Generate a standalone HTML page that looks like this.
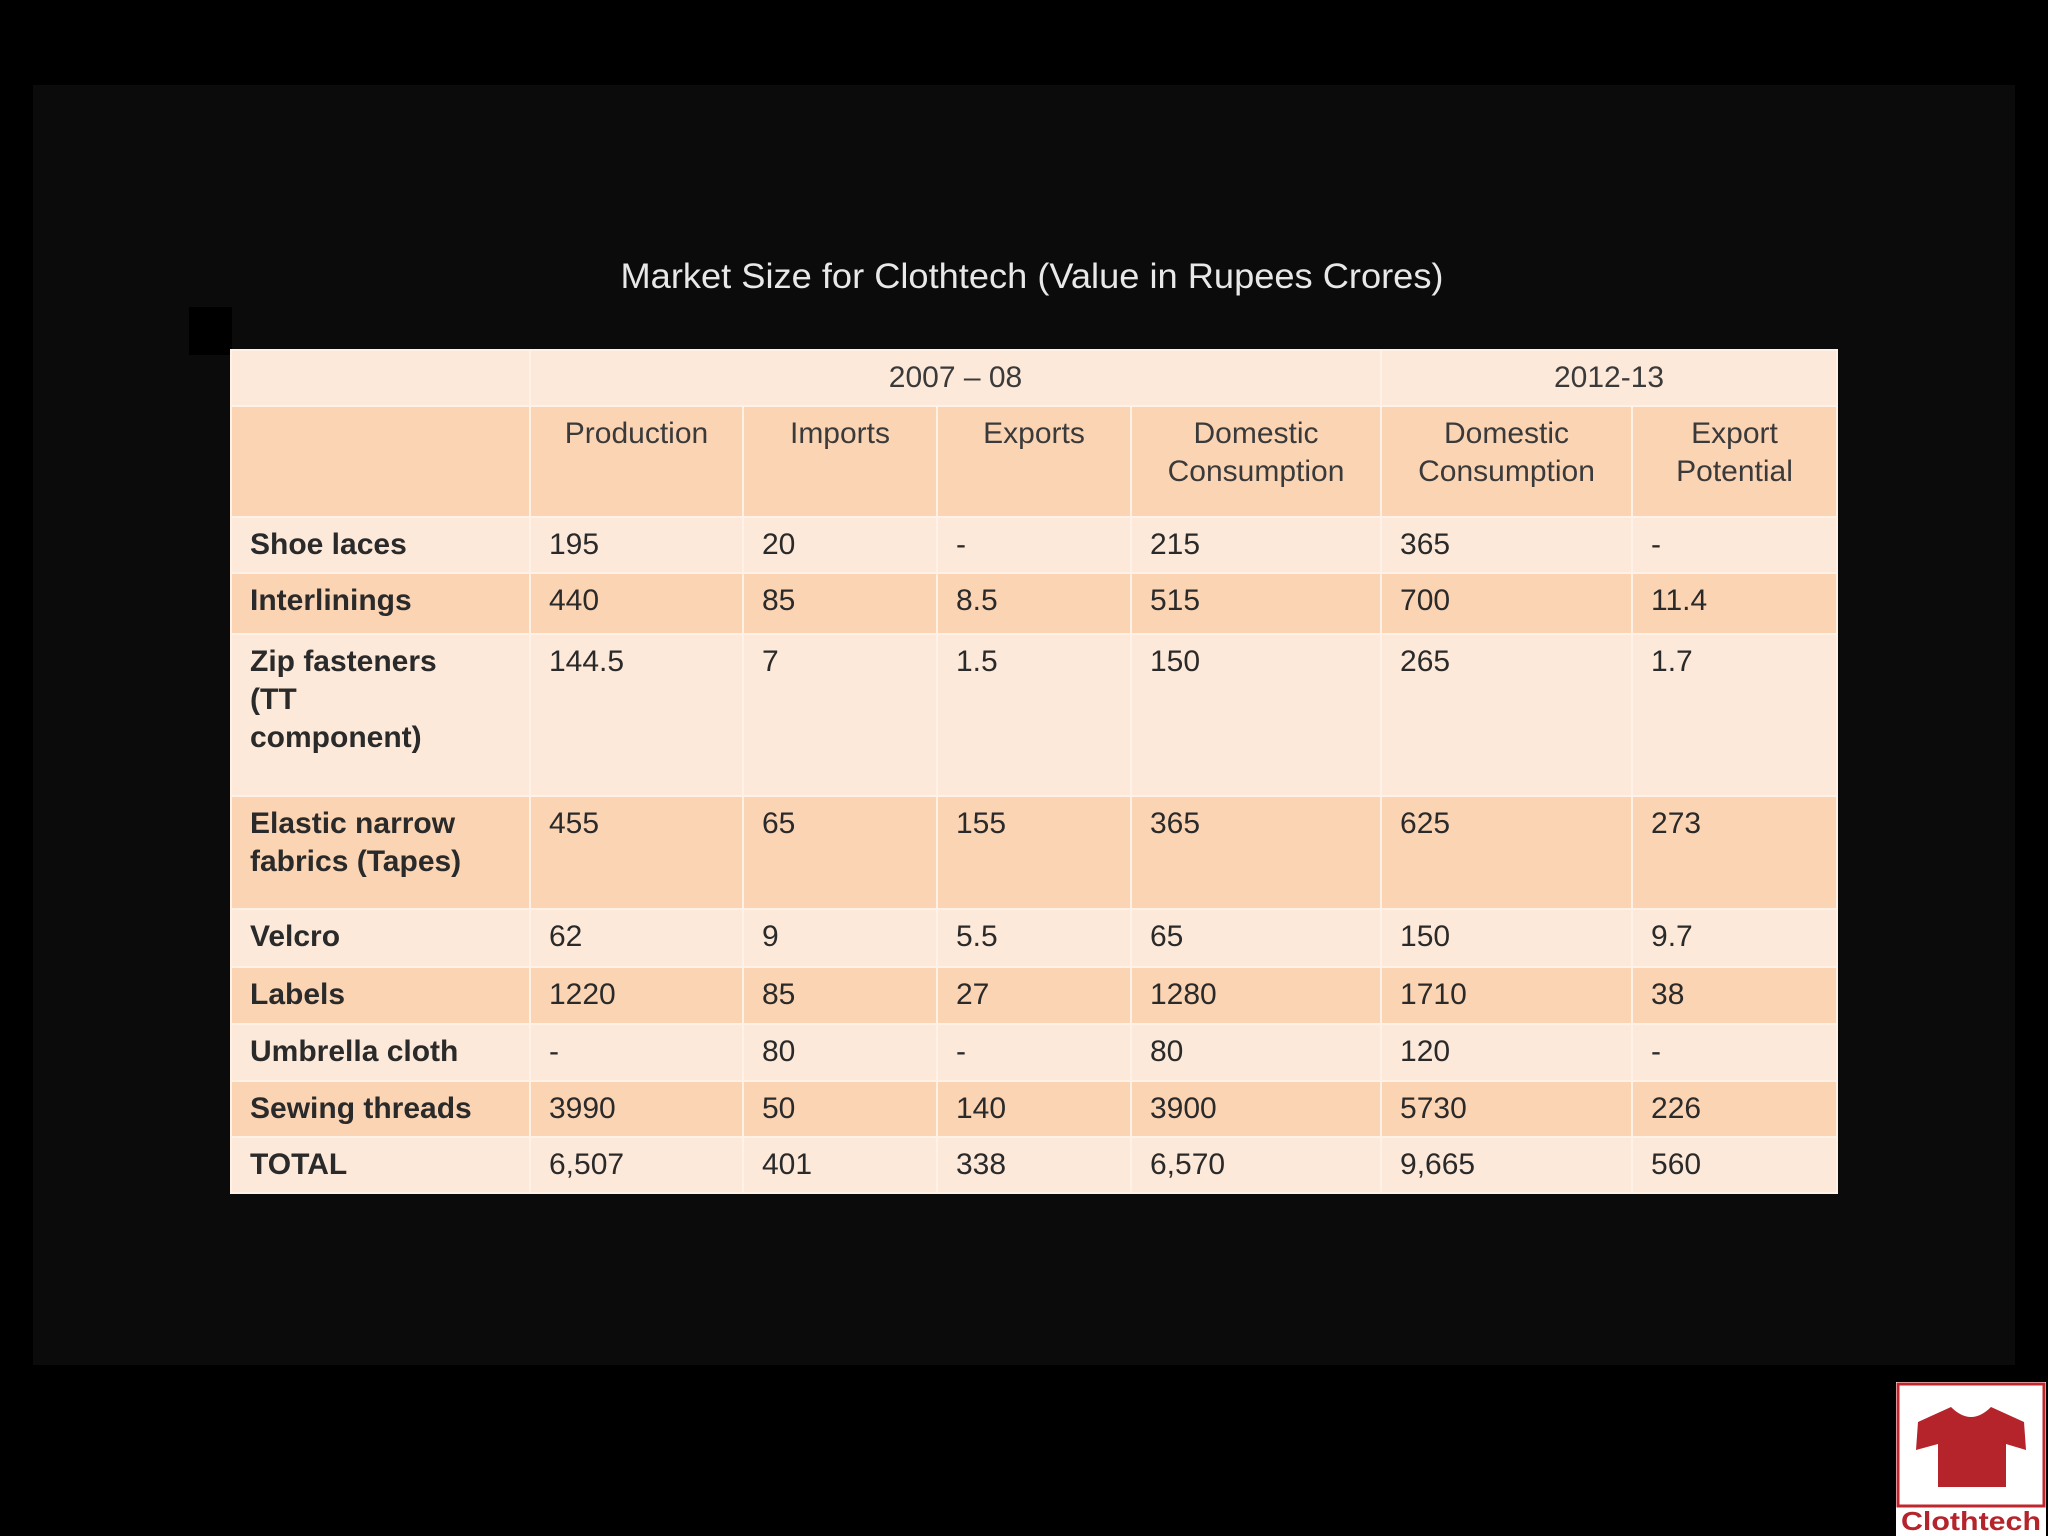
<!DOCTYPE html>
<html><head><meta charset="utf-8"><style>
html,body{margin:0;padding:0;background:#000;width:2048px;height:1536px;overflow:hidden;font-family:"Liberation Sans",sans-serif}
#panel{position:absolute;left:33px;top:85px;width:1982px;height:1280px;background:#0c0b0b}
#sq{position:absolute;left:189px;top:307px;width:43px;height:48px;background:#000}
#title{position:absolute;left:0;top:250px;width:2048px}
table{position:absolute;left:230px;top:349px;border-collapse:collapse;table-layout:fixed;width:1606px}
td{border:2px solid #fff1e6;padding:0 0 0 18px;font-size:30px;color:#2a2a2a;vertical-align:top;line-height:38px;padding-top:8px;box-sizing:border-box}
td.h{text-align:center;padding-left:0;color:#3a3a3a}
td.b{font-weight:bold}
tr.l td{background:#fde9d9}
tr.d td{background:#fbd4b4}
#logo{position:absolute;left:1896px;top:1382px;width:150px;height:154px;background:#fff}
</style></head><body>
<div id="panel"></div>
<div id="sq"></div>
<svg id="title" width="2048" height="50"><text x="1032" y="38" text-anchor="middle" font-family="Liberation Sans" font-size="35" fill="#e8e8e8" textLength="823" lengthAdjust="spacingAndGlyphs">Market Size for Clothtech (Value in Rupees Crores)</text></svg>
<table id="t">
<colgroup><col style="width:299px"><col style="width:213px"><col style="width:194px"><col style="width:194px"><col style="width:250px"><col style="width:251px"><col style="width:205px"></colgroup>
<tr class="l" style="height:56px"><td></td><td class="h" colspan="4">2007 – 08</td><td class="h" colspan="2">2012-13</td></tr>
<tr class="d" style="height:111px"><td></td><td class="h">Production</td><td class="h">Imports</td><td class="h">Exports</td><td class="h">Domestic<br>Consumption</td><td class="h">Domestic<br>Consumption</td><td class="h">Export<br>Potential</td></tr>
</table>
<svg id="logo" width="150" height="154" viewBox="0 0 150 154">
<rect x="2" y="2" width="146" height="122" fill="#fff" stroke="#c0272d" stroke-width="3"/>
<path d="M22 40 L55 25 Q75 45 95 25 L128 40 L130 68 L110 62 L110 105 L42 105 L42 62 L20 68 Z" fill="#b5232b"/>
<text x="75" y="148" text-anchor="middle" font-family="Liberation Sans" font-weight="bold" font-size="26" fill="#b5232b" textLength="140" lengthAdjust="spacingAndGlyphs">Clothtech</text>
</svg>
<script>
const items=["Shoe laces","Interlinings","Zip fasteners<br>(TT<br>component)","Elastic narrow<br>fabrics (Tapes)","Velcro","Labels","Umbrella cloth","Sewing threads","TOTAL"];
const production=["195","440","144.5","455","62","1220","-","3990","6,507"];
const imports=["20","85","7","65","9","85","80","50","401"];
const exportsV=["-","8.5","1.5","155","5.5","27","-","140","338"];
const domestic0708=["215","515","150","365","65","1280","80","3900","6,570"];
const domestic1213=["365","700","265","625","150","1710","120","5730","9,665"];
const exportPotential=["-","11.4","1.7","273","9.7","38","-","226","560"];
const rowH=[56,61,162,113,58,57,57,56,56];
const t=document.getElementById('t');
items.forEach((it,i)=>{
 const tr=document.createElement('tr');
 tr.className=i%2?'d':'l';
 tr.style.height=rowH[i]+'px';
 
 
 const vals=[it,production[i],imports[i],exportsV[i],domestic0708[i],domestic1213[i],exportPotential[i]];
 vals.forEach((v,j)=>{
  const td=document.createElement('td');
  if(j===0)td.className='b';
  td.innerHTML=v;
  
  
  tr.appendChild(td);
 });
 t.appendChild(tr);
});
</script>
</body></html>
